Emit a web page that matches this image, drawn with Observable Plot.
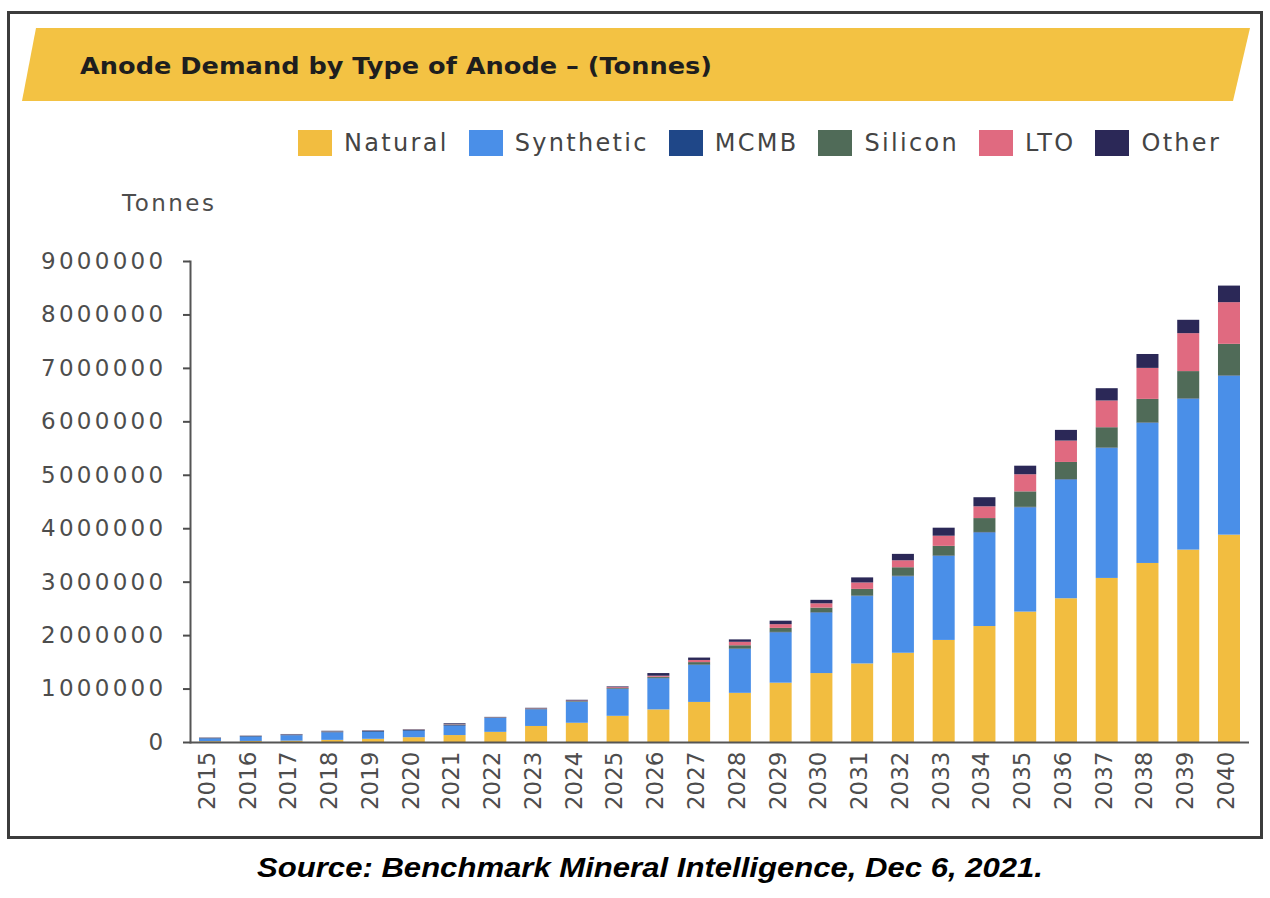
<!DOCTYPE html>
<html>
<head>
<meta charset="utf-8">
<script src="https://cdn.jsdelivr.net/npm/d3@7"></script>
<script src="https://cdn.jsdelivr.net/npm/@observablehq/plot@0.6"></script>
<style>
  html, body { margin: 0; padding: 0; background: #fff; }
  #page { position: relative; width: 1270px; height: 898px; overflow: hidden; font-family: "DejaVu Sans", sans-serif; }
  #frame { position: absolute; left: 7px; top: 11px; width: 1250px; height: 822px; border: 3px solid #3c3c3c; }
  #banner { position: absolute; left: 0; top: 0; }
  #legend { position: absolute; left: 298px; top: 130px; display: flex; align-items: center; gap: 20px; }
  #legend .item { display: flex; align-items: center; }
  #legend .sw { width: 34px; height: 26px; margin-right: 12px; }
  #legend .lab { font-size: 24px; color: #444; letter-spacing: 2.3px; line-height: 26px; }
  #unit { position: absolute; left: 122px; top: 190px; font-size: 23px; color: #4d4d4d; letter-spacing: 2.5px; }
  #chart { position: absolute; left: 0; top: 240px; }
  #chart g[aria-label="y-axis tick label"] text { letter-spacing: 3.3px; }
  #source { position: absolute; left: 0; width: 1300px; top: 852px; text-align: center; }
  #source span { display: inline-block; transform: scaleX(1.11); font-family: "Liberation Sans", sans-serif; font-weight: bold; font-style: italic; font-size: 28px; color: #000; }
</style>
</head>
<body>
<div id="page">
  <div id="frame"></div>
  <svg id="banner" width="1270" height="110">
    <polygon points="36,28 1250,28 1233,101 22,101" fill="#f3c243"></polygon>
    <text x="80" y="74" font-family="DejaVu Sans" font-weight="bold" font-size="23.5" fill="#1e1e1e" textLength="632" lengthAdjust="spacingAndGlyphs">Anode Demand by Type of Anode – (Tonnes)</text>
  </svg>
  <div id="legend"></div>
  <div id="unit">Tonnes</div>
  <div id="chart"></div>
  <div id="source"><span>Source: Benchmark Mineral Intelligence, Dec 6, 2021.</span></div>
</div>
<script>
// Anode demand in tonnes, per year and anode type
const years = ["2015","2016","2017","2018","2019","2020","2021","2022","2023","2024","2025","2026","2027",
               "2028","2029","2030","2031","2032","2033","2034","2035","2036","2037","2038","2039","2040"];
const types = ["Natural", "Synthetic", "MCMB", "Silicon", "LTO", "Other"];
const colors = ["#f2bd40", "#4a8fe8", "#1f4788", "#506b58", "#e06a80", "#2b2857"];

const natural   = [15000, 20000, 25000, 40000, 60000, 90000, 130000, 190000, 300000, 360000, 490000, 610000, 750000,
                   920000, 1110000, 1290000, 1470000, 1670000, 1910000, 2170000, 2440000, 2690000, 3070000, 3350000, 3600000, 3880000];
const synthetic = [50000, 80000, 100000, 140000, 130000, 120000, 175000, 260000, 310000, 390000, 500000, 580000, 690000,
                   820000, 940000, 1130000, 1260000, 1430000, 1570000, 1750000, 1950000, 2220000, 2430000, 2620000, 2820000, 2970000];
const mcmb      = [12000, 12000, 14000, 15000, 15000, 15000, 18000, 5000, 6000, 6000, 8000, 10000, 10000,
                   10000, 10000, 10000, 10000, 10000, 10000, 10000, 10000, 10000, 10000, 10000, 10000, 10000];
const silicon   = [2000, 2000, 3000, 5000, 5000, 5000, 8000, 5000, 8000, 10000, 12000, 20000, 45000,
                   60000, 75000, 85000, 125000, 160000, 180000, 260000, 290000, 320000, 380000, 440000, 510000, 590000];
const lto       = [2000, 2000, 3000, 3000, 4000, 4000, 5000, 3000, 6000, 10000, 16000, 20000, 40000,
                   65000, 70000, 80000, 120000, 130000, 190000, 220000, 320000, 400000, 500000, 580000, 710000, 780000];
const other     = [4000, 4000, 5000, 7000, 6000, 6000, 14000, 7000, 10000, 14000, 14000, 50000, 45000,
                   45000, 65000, 65000, 95000, 120000, 150000, 170000, 160000, 200000, 230000, 260000, 250000, 310000];
const yTicks = [0, 1000000, 2000000, 3000000, 4000000, 5000000, 6000000, 7000000, 8000000, 9000000];

const series = [natural, synthetic, mcmb, silicon, lto, other];
const rows = [];
years.forEach((year, i) => {
  types.forEach((type, k) => rows.push({year, type, value: series[k][i]}));
});

// legend
const legend = document.getElementById("legend");
types.forEach((t, k) => {
  const item = document.createElement("div");
  item.className = "item";
  item.innerHTML = `<div class="sw" style="background:${colors[k]}"></div><div class="lab">${t}</div>`;
  legend.appendChild(item);
});

const chart = Plot.plot({
  width: 1270,
  height: 592,
  marginTop: 21,
  marginBottom: 90,
  marginLeft: 190,
  marginRight: 21,
  x: {type: "band", domain: years, paddingInner: 0.46, paddingOuter: 0.221, align: 0.5, round: false},
  y: {domain: [0, 9000000]},
  color: {domain: types, range: colors},
  style: {fontFamily: "DejaVu Sans", color: "#4d4d4d", background: "transparent", overflow: "visible"},
  marks: [
    Plot.barY(rows, {x: "year", y: "value", fill: "type", order: types}),
    Plot.frame({anchor: "left", stroke: "#555", strokeWidth: 2}),
    Plot.ruleY([0], {stroke: "#555", strokeWidth: 2}),
    Plot.axisY({ticks: yTicks, tickFormat: d3.format("d"), tickSize: 7, tickPadding: 17, fontSize: 23, label: null, strokeWidth: 2}),
    Plot.axisX({tickRotate: -90, tickSize: 0, tickPadding: 9, fontSize: 23, label: null, dx: -3})
  ]
});
document.getElementById("chart").appendChild(chart);
</script>
</body>
</html>
